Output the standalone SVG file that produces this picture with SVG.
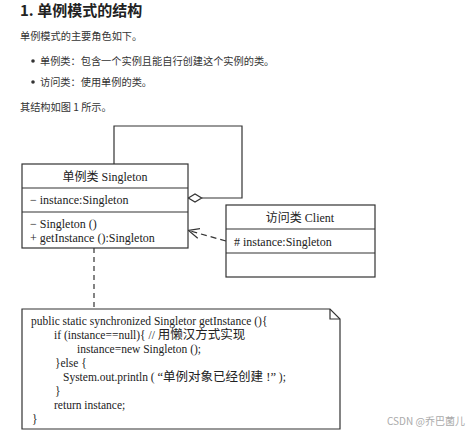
<svg xmlns="http://www.w3.org/2000/svg" width="474" height="431" viewBox="0 0 474 431">
<defs>
<style>
.h{font-family:"Noto Sans CJK SC","Liberation Sans",sans-serif;font-weight:bold;font-size:15px;fill:#222}
.p{font-family:"Noto Sans CJK SC","Liberation Sans",sans-serif;font-size:10.2px;fill:#333}
.u{font-family:"Liberation Serif","Noto Sans CJK SC",serif;font-size:12px;fill:#222}
.c{font-family:"Liberation Serif","Noto Sans CJK SC",serif;font-size:11.5px;fill:#222}
.cj{font-size:12.5px}
.box{fill:#fff;stroke:#333;stroke-width:1.2}
.ln{fill:none;stroke:#333;stroke-width:1.2}
.dash{fill:none;stroke:#333;stroke-width:1.2;stroke-dasharray:6 4}
.wm{font-family:"Noto Sans CJK SC","Liberation Sans",sans-serif;font-size:10px;fill:#aaa}
</style>
<marker id="open" viewBox="0 0 12 12" refX="11" refY="6" markerWidth="12" markerHeight="12" markerUnits="userSpaceOnUse" orient="auto">
<path d="M0,1 L11,6 L0,11" fill="none" stroke="#333" stroke-width="1.2"/>
</marker>
</defs>
<rect width="474" height="431" fill="#fff"/>
<g id="text">
<text class="h" x="20" y="16">1. 单例模式的结构</text>
<text class="p" x="20" y="40">单例模式的主要角色如下。</text>
<circle cx="33" cy="61" r="1.8" fill="#333"/>
<text class="p" x="40" y="65">单例类：包含一个实例且能自行创建这个实例的类。</text>
<circle cx="33" cy="82" r="1.8" fill="#333"/>
<text class="p" x="40" y="86">访问类：使用单例的类。</text>
<text class="p" x="20" y="111">其结构如图 1 所示。</text>
</g>
<g id="connectors">
<path class="ln" d="M114,164 V126 H242 V198 H201.7"/>
<path d="M188.3,198 L195,194 L201.7,198 L195,202 Z" fill="#fff" stroke="#333" stroke-width="1.2"/>
<path class="dash" d="M226,241 L188.5,230.5" marker-end="url(#open)"/>
<path class="ln" d="M94,248 V309" stroke-dasharray="5 4"/>
</g>
<g id="singleton">
<rect class="box" x="22" y="164" width="166" height="84"/>
<line class="ln" x1="22" y1="188" x2="188" y2="188"/>
<line class="ln" x1="22" y1="212" x2="188" y2="212"/>
<text class="u" x="105" y="181" text-anchor="middle">单例类  Singleton</text>
<text class="u" x="30" y="204">− instance:Singleton</text>
<text class="u" x="30" y="228">− Singleton ()</text>
<text class="u" x="30" y="242">+ getInstance ():Singleton</text>
</g>
<g id="client">
<rect class="box" x="226" y="205" width="149" height="72"/>
<line class="ln" x1="226" y1="229" x2="375" y2="229"/>
<line class="ln" x1="226" y1="253" x2="375" y2="253"/>
<text class="u" x="300" y="222" text-anchor="middle">访问类  Client</text>
<text class="u" x="234" y="246"># instance:Singleton</text>
</g>
<g id="note">
<path class="box" d="M22,309 H330 L340,319 V429 H22 Z"/>
<path class="ln" d="M330,309 V319 H340"/>
<text class="c" x="31" y="325">public static synchronized Singletor getInstance (){</text>
<text class="c" x="54" y="339">if (instance==null){ // <tspan class="cj">用懒汉方式实现</tspan></text>
<text class="c" x="77" y="353">instance=new Singleton ();</text>
<text class="c" x="55" y="367">}else {</text>
<text class="c" x="63" y="381">System.out.println ( <tspan class="cj">“单例对象已经创建 !”</tspan> );</text>
<text class="c" x="55" y="395">}</text>
<text class="c" x="54" y="409">return instance;</text>
<text class="c" x="32" y="423">}</text>
</g>
<text class="wm" x="387" y="425">CSDN @乔巴菌儿</text>
</svg>
